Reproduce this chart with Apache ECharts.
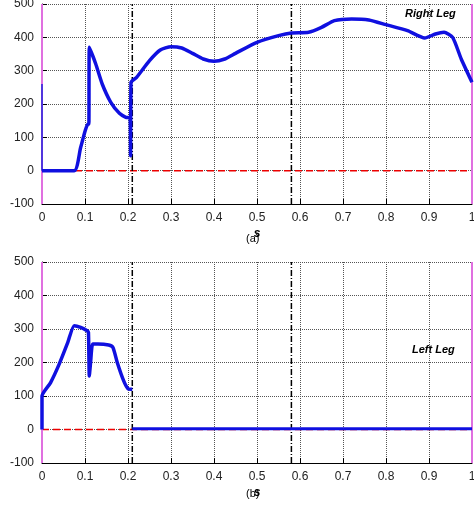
<!DOCTYPE html><html><head><meta charset="utf-8"><script src="https://cdn.jsdelivr.net/npm/echarts@6/dist/echarts.min.js"></script></head><body style="margin:0;background:#fff"><div id="c" style="width:474px;height:508px"></div><script>
const rightLeg=[[0,0],[0.075,0],[0.09,70],[0.107,140],[0.109,140],[0.11,370],[0.125,320],[0.14,260],[0.16,205],[0.18,172],[0.195,160],[0.205,158],[0.206,45],[0.207,265],[0.22,280],[0.25,330],[0.275,362],[0.3,372],[0.325,368],[0.35,352],[0.375,335],[0.4,328],[0.425,335],[0.45,352],[0.5,385],[0.55,405],[0.58,413],[0.62,415],[0.65,430],[0.68,450],[0.72,455],[0.76,452],[0.8,438],[0.85,420],[0.89,398],[0.915,410],[0.935,415],[0.955,400],[0.975,335],[1,265]];
const rightStart=[[0,0],[0,260]];
const leftLeg=[[0,0],[0,100],[0.02,140],[0.04,195],[0.06,260],[0.075,310],[0.09,305],[0.105,295],[0.108,290],[0.11,160],[0.113,200],[0.118,255],[0.13,255],[0.155,252],[0.165,245],[0.175,200],[0.19,145],[0.2,122],[0.21,120]];
const leftZero=[[0.21,2],[1,2]];
const switchS=[0.21,0.58];
const yTicks=[-100,0,100,200,300,400,500];
const c=echarts.init(document.getElementById('c'));
const F='Liberation Sans';
function ax(i){return {x:{type:'value',gridIndex:i,min:0,max:1,interval:0.1,axisLine:{onZero:false,lineStyle:{color:'#000'}},axisTick:{inside:true},axisLabel:{color:'#222',fontFamily:F,fontSize:12,formatter:v=>(v===0||v===1)?String(v):v.toFixed(1)},splitLine:{show:true,lineStyle:{type:'dotted',color:'#555'}},name:'s',nameLocation:'middle',nameGap:24,nameTextStyle:{fontFamily:F,fontWeight:'bold',fontStyle:'italic',fontSize:12}},
y:{type:'value',gridIndex:i,min:-100,max:500,interval:100,axisLine:{lineStyle:{color:'#000'}},axisTick:{inside:true},axisLabel:{color:'#222',fontFamily:F,fontSize:12},splitLine:{show:true,lineStyle:{type:'dotted',color:'#555'}},name:'{a|μ R}{s|z}{a| - |R}{s|x}{a|| (N)}',nameLocation:'middle',nameGap:30,nameTextStyle:{rich:{a:{fontFamily:F,fontStyle:'italic',fontSize:12},s:{fontFamily:F,fontStyle:'italic',fontSize:8,verticalAlign:'bottom',padding:[6,0,0,0]}}}}};}
const a0=ax(0),a1=ax(1);
function vlines(i){return [{type:'line',xAxisIndex:i,yAxisIndex:i,data:[[0,-100],[0,500]],symbol:'none',lineStyle:{color:'#e070e0',width:2}},{type:'line',xAxisIndex:i,yAxisIndex:i,data:[[1,-100],[1,500]],symbol:'none',lineStyle:{color:'#e070e0',width:2}},
{type:'line',xAxisIndex:i,yAxisIndex:i,data:[[0,0],[1,0]],symbol:'none',lineStyle:{color:'#e00',width:1.5,type:[7,4]},z:1},
...switchS.map(s=>({type:'line',xAxisIndex:i,yAxisIndex:i,data:[[s,-100],[s,500]],symbol:'none',lineStyle:{color:'#000',width:1.5,type:[6,2,1,2]}}))];}
c.setOption({animation:false,
grid:[{left:42,right:2,top:4,height:200,outerBoundsMode:'none'},{left:42,right:2,top:262,height:201,outerBoundsMode:'none'}],
xAxis:[a0.x,a1.x],yAxis:[a0.y,a1.y],
graphic:[{type:'text',left:405,top:8,style:{text:'Right Leg',font:'italic bold 11px Liberation Sans'}},{type:'text',left:412,top:344,style:{text:'Left Leg',font:'italic bold 11px Liberation Sans'}},
{type:'text',left:246,top:233,style:{text:'(a)',font:'11px Liberation Sans'}},{type:'text',left:246,top:488,style:{text:'(b)',font:'11px Liberation Sans'}}],
series:[...vlines(0),...vlines(1),
{type:'line',xAxisIndex:0,yAxisIndex:0,data:rightStart,symbol:'none',lineStyle:{color:'#2222dd',width:1.5}},
{type:'line',xAxisIndex:0,yAxisIndex:0,data:rightLeg,symbol:'none',smooth:0.2,lineStyle:{color:'#1010e0',width:3.5},z:5},
{type:'line',xAxisIndex:1,yAxisIndex:1,data:leftLeg,symbol:'none',smooth:0.2,lineStyle:{color:'#1010e0',width:3.5},z:5},
{type:'line',xAxisIndex:1,yAxisIndex:1,data:leftZero,symbol:'none',lineStyle:{color:'#1010e0',width:3},z:4}]});
</script></body></html>
